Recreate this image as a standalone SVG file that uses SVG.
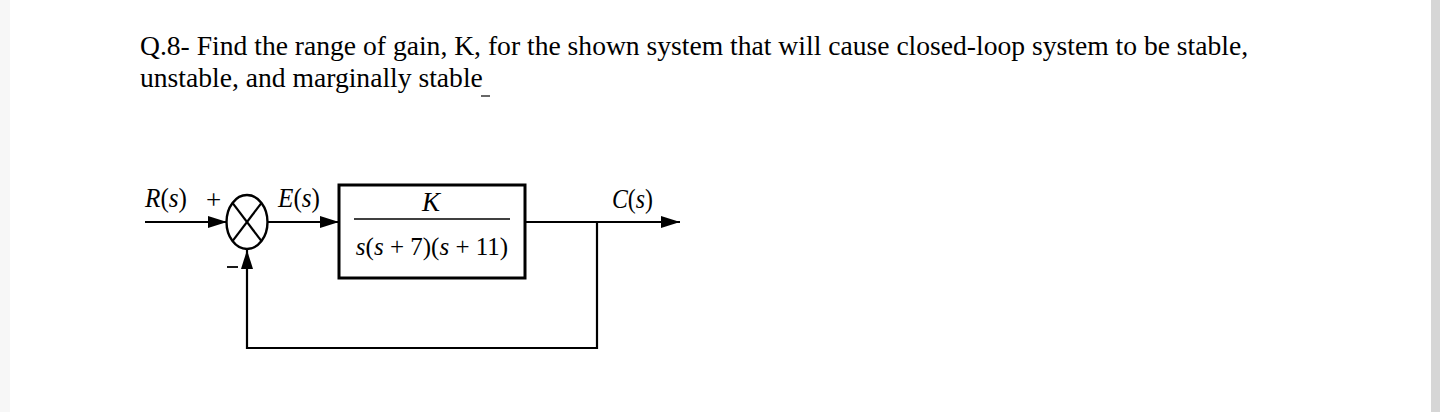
<svg xmlns="http://www.w3.org/2000/svg" width="1440" height="412" viewBox="0 0 1440 412">
<style>
.q{font-family:"Liberation Serif","Times New Roman",serif;font-size:27.6px;fill:#000}
.m{font-family:"Liberation Serif","Times New Roman",serif;font-size:27px;fill:#000}
.d{font-family:"Liberation Serif","Times New Roman",serif;font-size:25px;fill:#000}
.i{font-style:italic}
.ln{stroke:#000;stroke-width:2.2;fill:none}
.blk{stroke:#000;stroke-width:3;fill:#fff}
</style>
<defs>
<marker id="ah" markerUnits="userSpaceOnUse" markerWidth="20" markerHeight="12" refX="19" refY="6" orient="auto">
<path d="M0,0 L19,6 L0,12 z" fill="#000"/>
</marker>
</defs>
<rect width="1440" height="412" fill="#fff"/>
<rect x="0" y="0" width="10" height="412" fill="#f7f7f7"/>
<rect x="1431" y="0" width="9" height="412" fill="#d6d6d6"/>
<g id="question">
<text class="q" x="140" y="55">Q.8- Find the range of gain, K, for the shown system that will cause closed-loop system to be stable,</text>
<text class="q" x="140" y="87">unstable, and marginally stable</text>
<line x1="481" y1="96" x2="490" y2="96" stroke="#000" stroke-width="1.2"/>
</g>
<g id="connectors">
<line class="ln" x1="145" y1="222" x2="227" y2="222" marker-end="url(#ah)"/>
<line class="ln" x1="268" y1="222" x2="339" y2="222" marker-end="url(#ah)"/>
<line class="ln" x1="525" y1="222" x2="680" y2="222" marker-end="url(#ah)"/>
<polyline class="ln" points="597,222 597,348 247,348 247,250" marker-end="url(#ah)"/>
</g>
<g id="sum">
<ellipse cx="247" cy="222" rx="20.5" ry="27" stroke="#000" stroke-width="2.4" fill="#fff"/>
<line class="ln" x1="232.5" y1="202.9" x2="261.5" y2="241.1"/>
<line class="ln" x1="232.5" y1="241.1" x2="261.5" y2="202.9"/>
<text class="m" x="206" y="209">+</text>
<line x1="227" y1="267" x2="238" y2="267" stroke="#000" stroke-width="1.8"/>
</g>
<g id="labels">
<text class="m" x="145" y="207" textLength="42" lengthAdjust="spacingAndGlyphs"><tspan class="i">R</tspan>(<tspan class="i">s</tspan>)</text>
<text class="m" x="278" y="207" textLength="42" lengthAdjust="spacingAndGlyphs"><tspan class="i">E</tspan>(<tspan class="i">s</tspan>)</text>
<text class="m" x="612" y="208" textLength="41" lengthAdjust="spacingAndGlyphs"><tspan class="i">C</tspan>(<tspan class="i">s</tspan>)</text>
</g>
<g id="plant">
<rect class="blk" x="339" y="185" width="186" height="93"/>
<text class="m i" x="431" y="211" text-anchor="middle">K</text>
<line x1="354" y1="219" x2="510" y2="219" stroke="#000" stroke-width="1.5"/>
<text class="d" x="432" y="255" text-anchor="middle"><tspan class="i">s</tspan>(<tspan class="i">s</tspan> + 7)(<tspan class="i">s</tspan> + 11)</text>
</g>
</svg>
